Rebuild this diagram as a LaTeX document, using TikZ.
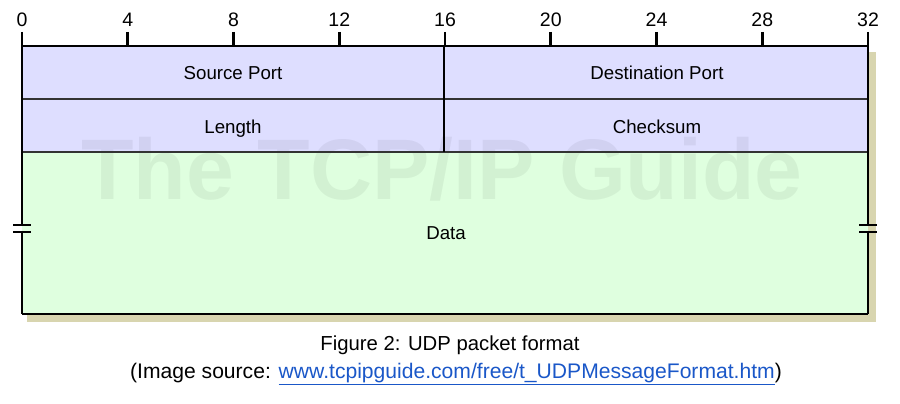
\documentclass[tikz,border=0pt]{standalone}
\usepackage{fontspec}
\setmainfont{Liberation Sans}
\usepackage{xcolor}
\usepackage{tikz}
\usetikzlibrary{positioning}

\definecolor{hdrfill}{HTML}{DEDEFF}
\definecolor{datafill}{HTML}{DFFFDF}
\definecolor{shadowcol}{HTML}{D8D5AF}
\definecolor{linkblue}{HTML}{1A57C8}

\tikzset{
	field/.style={font=\fontsize{18.7}{22}\selectfont, anchor=base},
	bitnum/.style={font=\fontsize{19.5}{23}\selectfont, anchor=base},
	caption/.style={font=\fontsize{20.3}{24}\selectfont, anchor=base},
	border/.style={line width=2.8pt, black},
	sep/.style={line width=1.8pt, black!80},
}

\begin{document}
\begin{tikzpicture}[x=1pt,y=-1pt]
		\useasboundingbox (0,0) rectangle (900,404);
		% shadow
		\fill[shadowcol] (868,52) rectangle (876,322);
		\fill[shadowcol] (27,314) rectangle (876,322);
		% fields
		\fill[hdrfill] (22,46) rectangle (868,152);
		\fill[datafill] (22,152) rectangle (868,314);
		% watermark
		\node[anchor=base west, inner sep=0pt, text height=58pt, text depth=0pt,
			text=black, text opacity=0.055,
			font=\fontsize{86}{90}\selectfont\bfseries] (mark) at (81,199) {The TCP/IP Guide};
		\draw[sep] (22,99) -- (868,99);
		\draw[sep] (22,152) -- (868,152);
		\draw[line width=2pt] (444,46) -- (444,152);
		\draw[border] (22,314) -- (868,314);
		\draw[border] (868,46) -- (868,225);
		\draw[border] (868,232) -- (868,314);
		\draw[border] (22,46) -- (22,225);
		\draw[border] (22,232) -- (22,314);
		\draw[border] (22,46) -- (868,46);
		% break marks
		\draw[line width=2pt] (13,225) -- (31,225) (13,232) -- (31,232);
		\draw[line width=2pt] (859,225) -- (877,225) (859,232) -- (877,232);
		% bit ruler
		\foreach \b in {0,4,...,32}{
			\draw[line width=2.6pt] ({22+\b*26.4375},32) -- ({22+\b*26.4375},46);
			\node[bitnum] (bit\b) at ({22+\b*26.4375},27) {\b};
		}
		\node[field] (srcport) at (233,80) {Source Port};
		\node[field] (dstport) at (657,80) {Destination Port};
		\node[field] (length) at (233,133) {Length};
		\node[field] (checksum) at (657,133) {Checksum};
		\node[field] (data) at (446,239) {Data};
		% caption
		\node[caption] (fig) at (450,350) {Figure 2: UDP packet format};
		\node[caption, font=\fontsize{21.1}{24}\selectfont] (src) at (456,378) {(Image source: \textcolor{linkblue}{\underline{www.tcpipguide.com/free/t\_UDPMessageFormat.htm}})};
	\end{tikzpicture}
\end{document}
